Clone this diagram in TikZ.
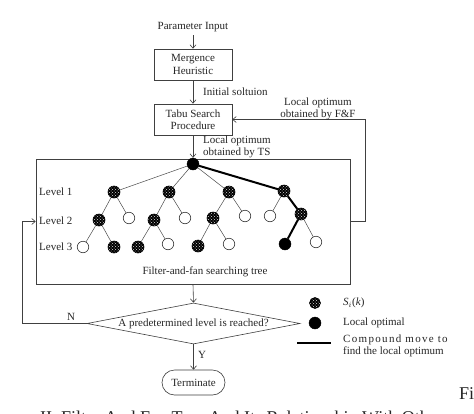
\documentclass[tikz,border=0pt]{standalone}
\usepackage{fontspec}
\setmainfont{Liberation Serif}
\usetikzlibrary{arrows.meta,shapes.geometric,shapes.misc,patterns}
\begin{document}
\begin{tikzpicture}[x=1pt,y=-1pt,
  every node/.style={font=\fontsize{11}{12.5}\selectfont, text=black!85},
  ln/.style={draw=black!75, line width=0.6pt},
  arr/.style={ln, -{Straight Barb[length=3.5pt,width=6pt]}},
  box/.style={ln, rectangle, minimum width=78pt, minimum height=31pt, align=center, inner sep=1pt},
  hat/.style={circle, draw=black, line width=0.6pt, minimum size=12pt, inner sep=0pt,
     preaction={fill=black}, pattern=crosshatch dots, pattern color=white!85!black},
  opn/.style={circle, draw=black!80, line width=0.6pt, minimum size=11.5pt, inner sep=0pt, fill=white},
  blk/.style={circle, fill=black, draw=black, minimum size=12pt, inner sep=0pt},
  edge/.style={draw=black!70, line width=0.5pt},
  thick edge/.style={draw=black, line width=2pt},
  lbl/.style={anchor=west, inner sep=0pt}
]
\clip (0,0) rectangle (474,413);
\fill[white] (0,0) rectangle (474,413);

% top flow
\node (param) at (193,27) {Parameter Input};
\node[box] (merge) at (193,64.5) {Mergence\\Heuristic};
\node[box] (tabu) at (193,119.5) {Tabu Search\\Procedure};
\draw[arr] (param.south) -- (merge.north);
\draw[arr] (merge.south) -- (tabu.north);
\node[lbl] (init) at (203,92) {Initial soltuion};

% tree box
\node[ln, rectangle, minimum width=314pt, minimum height=125pt, inner sep=0pt] (tree) at (193,221.5) {};
\node[blk] (r) at (193,164) {};
\draw[arr] (tabu.south) -- (r.north);
\node[lbl, align=left] (tslbl) at (203,147) {Local optimum\\obtained by TS};

% F&F feedback
\coordinate (ffc) at (365,221.5);
\draw[arr] (tree.east) -- (ffc) |- (tabu.east);
\node[align=center] (fflbl) at (318,109) {Local optimum\\obtained by F\&F};

% levels
\node[lbl] (lv1) at (39,192) {Level 1};
\node[lbl] (lv2) at (39,221) {Level 2};
\node[lbl] (lv3) at (39,247) {Level 3};

% level 1
\node[hat] (a1) at (114,192) {};
\node[hat] (a2) at (169,192) {};
\node[hat] (a3) at (229,192) {};
\node[hat] (a4) at (284,191) {};
% level 2
\node[hat] (b1) at (99,220) {};
\node[opn] (b2) at (129,218) {};
\node[hat] (b3) at (154,220) {};
\node[opn] (b4) at (185,218) {};
\node[hat] (b5) at (213,218) {};
\node[opn] (b6) at (245,216) {};
\node[opn] (b7) at (270,216) {};
\node[hat] (b8) at (301,214) {};
% level 3
\node[opn] (c1) at (83,247) {};
\node[hat] (c2) at (114,247) {};
\node[hat] (c3) at (138,247) {};
\node[opn] (c4) at (168,244) {};
\node[hat] (c5) at (198,246) {};
\node[opn] (c6) at (229,244) {};
\node[blk] (c7) at (285,244) {};
\node[opn] (c8) at (316,242) {};

\foreach \n in {a1,a2,a3} \draw[edge] (r) -- (\n);
\draw[thick edge] (r) -- (a4);
\draw[edge] (a1) -- (b1); \draw[edge] (a1) -- (b2);
\draw[edge] (a2) -- (b3); \draw[edge] (a2) -- (b4);
\draw[edge] (a3) -- (b5); \draw[edge] (a3) -- (b6);
\draw[edge] (a4) -- (b7); \draw[thick edge] (a4) -- (b8);
\draw[edge] (b1) -- (c1); \draw[edge] (b1) -- (c2);
\draw[edge] (b3) -- (c3); \draw[edge] (b3) -- (c4);
\draw[edge] (b5) -- (c5); \draw[edge] (b5) -- (c6);
\draw[thick edge] (b8) -- (c7); \draw[edge] (b8) -- (c8);

\node (treelbl) at (205,272) {Filter-and-fan searching tree};

% decision
\node[ln, diamond, minimum width=213pt, minimum height=41pt, inner sep=0pt] (dec) at (193.5,323.5) {};
\node (dectext) at (dec.center) {A predetermined level is reached?};
\draw[arr] (tree.south) -- (dec.north);
\coordinate (nc) at (22,323.5);
\draw[arr] (dec.west) -- (nc) |- (tree.west);
\node (nlbl) at (71,317) {N};

\node[ln, rounded rectangle, minimum width=65pt, minimum height=25pt, inner sep=1pt] (term) at (193.5,382.5) {Terminate};
\draw[arr] (dec.south) -- (term.north);
\node (ylbl) at (202,355) {Y};

% legend
\node[hat, minimum size=11pt] (lg1) at (315,303) {};
\node[blk] (lg2) at (315,323) {};
\coordinate (lg3a) at (297,343);
\coordinate (lg3b) at (331,343);
\draw[thick edge] (lg3a) -- (lg3b);
\node[lbl] (lt1) at (343,303) {\textit{S}$_i$(\textit{k})};
\node[lbl] (lt2) at (343,323) {Local optimal};
\node[lbl, align=left] (lt3) at (343,346) {{\addfontfeature{LetterSpace=12}Compound move to}\\find the local optimum};

% page fragments
\node[anchor=base west, inner sep=0pt, font=\fontsize{18}{20}\selectfont] (fi) at (459,399) {Fi};
\node[anchor=base west, inner sep=0pt, font=\fontsize{18}{20}\selectfont] (cap) at (40,423) {II. Filter And Fan Tree And Its Relationship With Other};
\end{tikzpicture}
\end{document}
